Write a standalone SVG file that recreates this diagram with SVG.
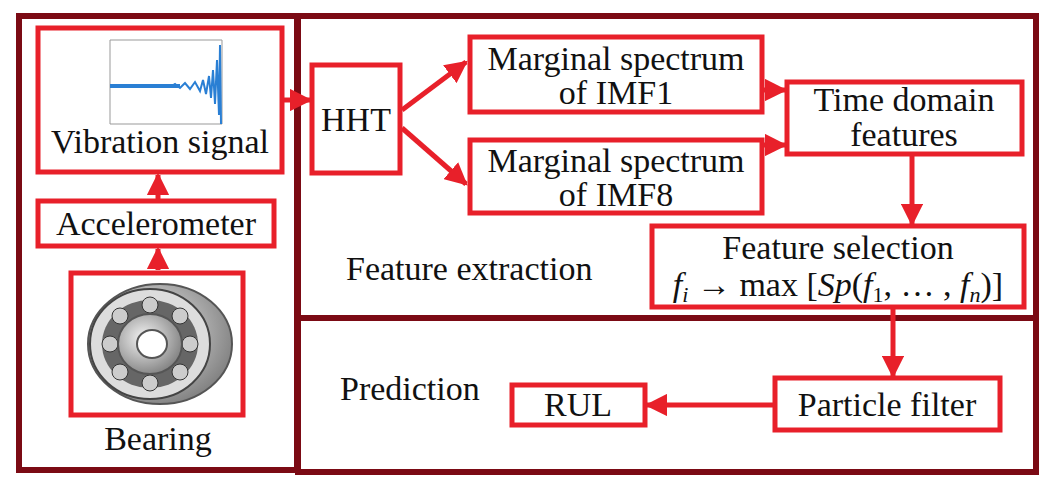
<svg xmlns="http://www.w3.org/2000/svg" width="1054" height="479" viewBox="0 0 1054 479">
<style>
.panel{fill:none;stroke:#7b0a14;stroke-width:6}
.box{fill:#fff;stroke:#e8202a;stroke-width:5}
text{font-family:'Liberation Serif','Times New Roman','DejaVu Serif',serif;font-size:34px;fill:#111}
.c{stroke:#e8202a;stroke-width:5;fill:none}
</style>
<defs>
<marker id="a" viewBox="0 0 10 10" refX="9" refY="5" markerWidth="4.5" markerHeight="4.5" orient="auto" markerUnits="strokeWidth">
<path d="M0,0L10,5L0,10z" fill="#e8202a"/>
</marker>
<radialGradient id="g" cx="0.4" cy="0.4" r="0.7"><stop offset="0" stop-color="#f4f4f4"/><stop offset="1" stop-color="#777"/></radialGradient>
</defs>
<rect width="1054" height="479" fill="#fff"/>
<g id="panels">
<rect class="panel" x="19" y="16" width="278" height="454"/>
<rect class="panel" x="298" y="16" width="738" height="302"/>
<rect class="panel" x="298" y="318" width="738" height="154"/>
<text x="346" y="280">Feature extraction</text>
<text x="340" y="400">Prediction</text>
</g>
<g id="vibration">
<rect class="box" x="38" y="28" width="244" height="144"/>
<g stroke="#999" stroke-width="1" fill="none"><path d="M110,40V124H222V40H110"/></g>
<path d="M110,86H150L160,85L170,87L175,84L180,88L185,83L190,89L195,82L200,91L203,80L206,94L209,76L211,98L213,70L215,104L217,60L219,115L220,45L221,124" stroke="#2a7fd4" stroke-width="2" fill="none"/>
<rect x="110" y="84" width="70" height="4" fill="#2a7fd4"/>
<text x="160" y="153" text-anchor="middle">Vibration signal</text>
</g>
<g id="accelerometer">
<rect class="box" x="38" y="201" width="236" height="45"/>
<text x="156" y="235" text-anchor="middle">Accelerometer</text>
</g>
<g id="bearing">
<rect class="box" x="71" y="273" width="172" height="142"/>
<ellipse cx="160" cy="344" rx="72" ry="60" fill="url(#g)" stroke="#555" stroke-width="2"/>
<ellipse cx="150" cy="344" rx="60" ry="55" fill="#ddd" stroke="#444" stroke-width="2"/>
<ellipse cx="150" cy="344" rx="48" ry="44" fill="#666"/>
<g fill="#ccc" stroke="#333" stroke-width="1">
<circle cx="150" cy="305" r="8"/><circle cx="180" cy="316" r="8"/><circle cx="190" cy="344" r="8"/><circle cx="180" cy="372" r="8"/><circle cx="150" cy="383" r="8"/><circle cx="120" cy="372" r="8"/><circle cx="110" cy="344" r="8"/><circle cx="120" cy="316" r="8"/>
</g>
<ellipse cx="150" cy="344" rx="32" ry="30" fill="url(#g)" stroke="#555" stroke-width="2"/>
<ellipse cx="152" cy="344" rx="15" ry="14" fill="#fff" stroke="#555" stroke-width="2"/>
<text x="158" y="450" text-anchor="middle">Bearing</text>
</g>
<g id="hht">
<rect class="box" x="312" y="65" width="88" height="108"/>
<text x="356" y="131" text-anchor="middle">HHT</text>
</g>
<g id="imf1">
<rect class="box" x="470" y="37" width="292" height="75"/>
<text x="616" y="70" text-anchor="middle" font-size="32">Marginal spectrum</text>
<text x="616" y="104" text-anchor="middle" font-size="32">of IMF1</text>
</g>
<g id="imf8">
<rect class="box" x="470" y="140" width="292" height="73"/>
<text x="616" y="172" text-anchor="middle" font-size="32">Marginal spectrum</text>
<text x="616" y="206" text-anchor="middle" font-size="32">of IMF8</text>
</g>
<g id="tdf">
<rect class="box" x="787" y="82" width="235" height="72"/>
<text x="904" y="111" text-anchor="middle" font-size="31">Time domain</text>
<text x="904" y="146" text-anchor="middle" font-size="31">features</text>
</g>
<g id="fs">
<rect class="box" x="652" y="226" width="372" height="81"/>
<text x="838" y="259" text-anchor="middle">Feature selection</text>
<text x="838" y="296" text-anchor="middle"><tspan font-style="italic">f</tspan><tspan font-size="22" dy="6" font-style="italic">i</tspan><tspan dy="-6"> → max [</tspan><tspan font-style="italic">Sp</tspan>(<tspan font-style="italic">f</tspan><tspan font-size="22" dy="6">1</tspan><tspan dy="-6">, … , </tspan><tspan font-style="italic">f</tspan><tspan font-size="22" dy="6" font-style="italic">n</tspan><tspan dy="-6">)]</tspan></text>
</g>
<g id="pf">
<rect class="box" x="775" y="378" width="225" height="52"/>
<text x="887" y="416" text-anchor="middle">Particle filter</text>
</g>
<g id="rul">
<rect class="box" x="512" y="385" width="133" height="40"/>
<text x="578" y="416" text-anchor="middle">RUL</text>
</g>
<g id="connectors">
<path class="c" d="M158,270V249" marker-end="url(#a)"/>
<path class="c" d="M158,199V175" marker-end="url(#a)"/>
<path class="c" d="M284,100H310" marker-end="url(#a)"/>
<path class="c" d="M402,110L466,62" marker-end="url(#a)"/>
<path class="c" d="M402,128L466,184" marker-end="url(#a)"/>
<path class="c" d="M764,90H785" marker-end="url(#a)"/>
<path class="c" d="M764,145H785" marker-end="url(#a)"/>
<path class="c" d="M912,156V224" marker-end="url(#a)"/>
<path class="c" d="M893,309V376" marker-end="url(#a)"/>
<path class="c" d="M773,405H647" marker-end="url(#a)"/>
</g>
</svg>
